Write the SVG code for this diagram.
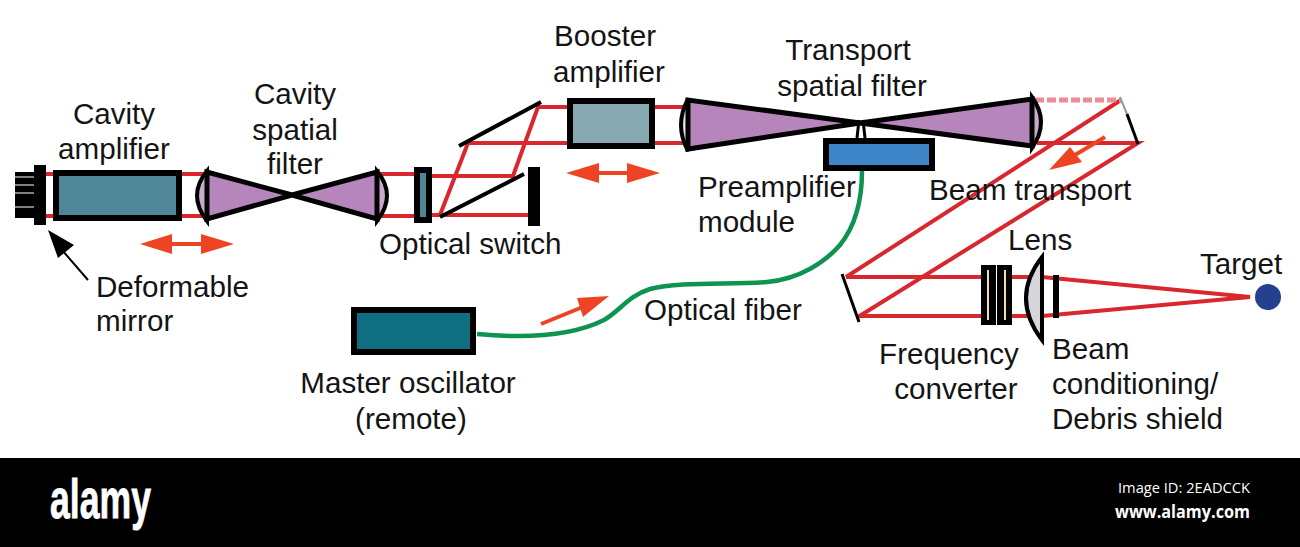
<svg xmlns="http://www.w3.org/2000/svg" width="1300" height="547" viewBox="0 0 1300 547">
<style>
text{font-family:"Liberation Sans",Arial,sans-serif;font-size:29.6px;fill:#141414}
.m{text-anchor:middle}
.beam{fill:none;stroke:#d9272e;stroke-width:4}
.bk{fill:none;stroke:#000;stroke-width:4}
.box{stroke:#000;stroke-width:6}
.cone{fill:#b685bb;stroke:#000;stroke-width:5;stroke-linejoin:miter}
.lens{fill:#c9a9cc;stroke:#000;stroke-width:4}
.org{fill:#ee4423}
.orgl{stroke:#ee4423;stroke-width:4;fill:none}
</style>
<rect width="1300" height="547" fill="#fff"/>
<g id="connectors">
<path class="beam" d="M20 174H53M20 216H53M182 174H207M182 216H207M377 174H414M377 216H414M432 176H513L538 107H568M432 215H528M440 215L468 143H568M655 107H688M655 143H688"/>
<path class="beam" d="M1037 143H1138L858 317M846 277H982M860 316H982M1012 277H1042M1012 316H1042M1042 277L1250 297L1042 316"/>
<path d="M1121 100L846 277" class="beam"/>
<path d="M1035 100H1121" fill="none" stroke="#f08a96" stroke-width="5" stroke-dasharray="9 3"/>
<path d="M477 334C520 338 570 337 604 320C620 311 628 296 650 289C680 281 730 285 767 282C800 279 825 262 840 245C856 225 862 200 862 171" fill="none" stroke="#0f9350" stroke-width="4.5"/>
<path class="orgl" d="M541 324L590 304M1105 137L1060 164"/>
<path class="org" d="M609 296L577 298L583 317Z M1049 170L1070 147L1082 162Z"/>
<path class="orgl" d="M165 244H210M590 173H636"/>
<path class="org" d="M140 244L172 234V254Z M234 244L201 234V254Z M566 173L599 163V183Z M660 173L627 163V183Z"/>
<path d="M48 230L74 245L58 258Z" fill="#000"/>
<path d="M62 250L88 280" stroke="#000" stroke-width="2" fill="none"/>
</g>
<g id="deformable-mirror">
<rect x="15" y="172" width="20" height="46" fill="#000"/>
<path d="M15 177H34M15 185H34M15 193H34M15 207H34" stroke="#fff" stroke-width="1"/>
<rect x="34" y="165" width="12" height="60" fill="#000"/>
</g>
<g id="cavity-amplifier"><rect class="box" x="56" y="173" width="123" height="45" fill="#4f8799"/></g>
<g id="cavity-spatial-filter">
<path class="lens" d="M207 171Q187 195 207 221Z"/>
<path class="lens" d="M377 171Q397 195 377 221Z"/>
<path class="cone" d="M207 172V219L292 195L377 219V172L292 195Z"/>
</g>
<g id="optical-switch">
<rect class="box" x="417" y="170" width="12" height="50" fill="#4f8799"/>
<path d="M459 146L541 102M440 217L524 174" class="bk"/>
<rect x="528" y="167" width="12" height="59" fill="#000"/>
</g>
<g id="booster-amplifier"><rect class="box" x="570" y="101" width="82" height="45" fill="#87a7b1"/></g>
<g id="transport-spatial-filter">
<path class="lens" style="fill:#e6dde8" d="M688 99Q674 125 688 151Z"/>
<path class="lens" d="M1032 97Q1050 122 1032 148Z"/>
<path class="cone" d="M688 100V149L860 123L1032 146V99L860 123Z"/>
<path d="M859 120L857 138M863 120L865 138" stroke="#000" stroke-width="3" fill="none"/>
</g>
<g id="preamplifier-module"><rect class="box" x="826" y="141" width="106" height="27" fill="#3d85c6"/></g>
<g id="transport-mirrors">
<path d="M1120 97L1127 114" stroke="#999" stroke-width="2" fill="none"/>
<path d="M1127 114L1138 144" stroke="#000" stroke-width="3" fill="none"/>
<path d="M842 274L859 322" stroke="#000" stroke-width="3" fill="none"/>
</g>
<g id="master-oscillator"><rect class="box" x="354" y="310" width="119" height="42" fill="#0f6f80"/></g>
<g id="frequency-converter">
<rect x="981" y="265" width="15" height="60" fill="#000"/>
<rect x="997" y="265" width="15" height="60" fill="#000"/>
<path d="M988 270V320M1005 270V320" stroke="#f7dc9a" stroke-width="2"/>
</g>
<g id="lens"><path d="M1042 257Q1010 298 1042 340Z" fill="#d6d6da" stroke="#000" stroke-width="4"/></g>
<g id="debris-shield"><rect x="1053" y="275" width="6" height="43" fill="#000"/></g>
<g id="target"><circle cx="1268" cy="297" r="13" fill="#24408f"/></g>
<g id="labels">
<text class="m" x="114" y="124">Cavity</text>
<text class="m" x="114" y="159">amplifier</text>
<text class="m" x="295" y="104">Cavity</text>
<text class="m" x="295" y="140">spatial</text>
<text class="m" x="295" y="174">filter</text>
<text class="m" x="605" y="46">Booster</text>
<text class="m" x="609" y="82">amplifier</text>
<text class="m" x="848" y="60">Transport</text>
<text class="m" x="852" y="96">spatial filter</text>
<text x="698" y="197">Preamplifier</text>
<text x="698" y="232">module</text>
<text x="379" y="254">Optical switch</text>
<text x="929" y="200">Beam transport</text>
<text x="1008" y="250">Lens</text>
<text x="1200" y="274">Target</text>
<text x="96" y="297">Deformable</text>
<text x="96" y="331">mirror</text>
<text x="644" y="320">Optical fiber</text>
<text class="m" x="408" y="393">Master oscillator</text>
<text class="m" x="411" y="429">(remote)</text>
<text class="m" x="949" y="364">Frequency</text>
<text class="m" x="956" y="399">converter</text>
<text x="1052" y="359">Beam</text>
<text x="1052" y="394">conditioning/</text>
<text x="1052" y="429">Debris shield</text>
</g>
<g id="footer">
<rect y="458" width="1300" height="89" fill="#000"/>
<text x="50" y="518" style="font-size:56px;font-weight:bold;fill:#fff;stroke:#fff;stroke-width:.8" textLength="101" lengthAdjust="spacingAndGlyphs">alamy</text>
<text x="1118" y="493" style="font-family:'Open Sans',sans-serif;font-size:15px;fill:#fff" textLength="132" lengthAdjust="spacingAndGlyphs">Image ID: 2EADCCK</text>
<text x="1115" y="518" style="font-family:'Open Sans',sans-serif;font-size:18px;font-weight:bold;fill:#fff" textLength="135" lengthAdjust="spacingAndGlyphs">www.alamy.com</text>
</g>
</svg>
